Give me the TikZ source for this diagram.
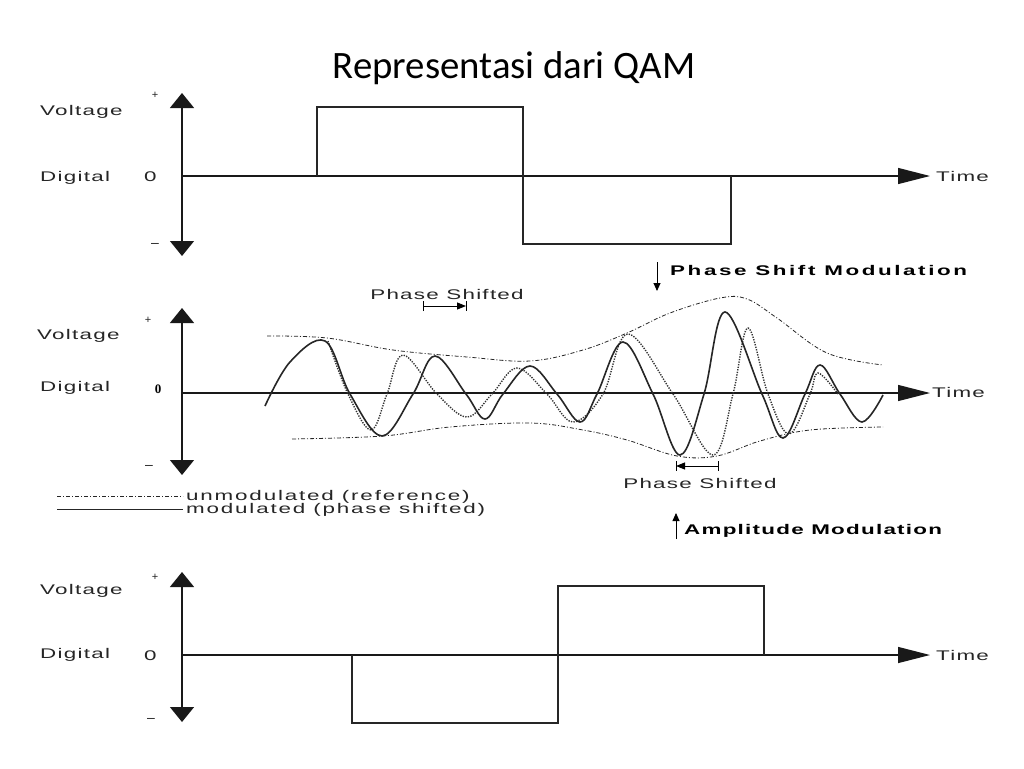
\documentclass[tikz,border=0pt]{standalone}
\usepackage{fontspec}
\setmainfont{Liberation Sans}
\newfontfamily\titlefont{Carlito}
\newfontfamily\lab[FakeStretch=1.6,LetterSpace=9]{Liberation Sans}
\newfontfamily\labl[FakeStretch=1.6,LetterSpace=13]{Liberation Sans}
\newfontfamily\labb[FakeStretch=1.6,LetterSpace=18.5]{Liberation Sans}
\newfontfamily\labbb[FakeStretch=1.6,LetterSpace=9]{Liberation Sans}
\newfontfamily\serifb{Liberation Serif}
\usetikzlibrary{arrows.meta}
\tikzset{
  axisline/.style={line width=1.3pt, draw=black!90},
  vtips/.style={{Triangle[length=15pt,width=24pt]}-{Triangle[length=15pt,width=24pt]}},
  htip/.style={-{Triangle[length=32pt,width=16pt]}},
  sq/.style={line width=1.5pt, draw=black!85},
  lbl/.style={inner sep=0pt, anchor=base west, font=\lab\fontsize{14}{15}\selectfont, text=black!85},
  lblc/.style={inner sep=0pt, anchor=base, font=\lab\fontsize{14}{15}\selectfont, text=black!85},
  blbl/.style={inner sep=0pt, anchor=base west, font=\labb\bfseries\fontsize{14}{15}\selectfont, text=black},
  pm/.style={inner sep=0pt, anchor=center, font=\fontsize{11}{12}\selectfont, text=black!85},
  mn/.style={inner sep=0pt, anchor=center, font=\fontsize{14}{15}\selectfont, text=black!85},
  solidw/.style={line width=1.6pt, draw=black!85},
  dotw/.style={line width=1.4pt, draw=black!80, dash pattern=on 1.3pt off 1.3pt},
  env/.style={line width=0.8pt, draw=black!85, dash pattern=on 4pt off 2pt on 1pt off 2pt},
  small/.style={line width=0.9pt, draw=black},
}
\begin{document}
\begin{tikzpicture}[x=1pt,y=-1pt]
\useasboundingbox (0,0) rectangle (1024,768);
\fill[white] (0,0) rectangle (1024,768);

% title
\node[inner sep=0pt, anchor=base, font=\titlefont\fontsize{38.8}{42}\selectfont] (title) at (514,78) {Representasi dari QAM};

% ===== top panel =====
\coordinate (t-top) at (182,93);
\coordinate (t-bot) at (182,256);
\coordinate (t-o) at (182,176);
\coordinate (t-end) at (930,176);
\draw[axisline, vtips] (t-bot) -- (t-top);
\draw[axisline, htip] (t-o) -- (t-end);
\node[lbl] (t-time) at (936,181) {Time};
\node[lbl] (t-volt) at (40,115) {Voltage};
\node[lbl] (t-dig) at (40,181) {Digital};
\node[lbl] (t-zero) at (144,181) {0};
\node[pm] (t-plus) at (155,95) {+};
\node[mn] (t-minus) at (155,245) {--};
\draw[sq] (317,176) -- (317,107) -- (523,107) -- (523,244) -- (731,244) -- (731,176);

% ===== middle panel =====
\coordinate (m-top) at (182,308);
\coordinate (m-bot) at (182,475);
\coordinate (m-o) at (182,393);
\coordinate (m-end) at (930,393);
\draw[axisline, vtips] (m-bot) -- (m-top);
\draw[axisline, htip] (m-o) -- (m-end);
\node[lbl] (m-time) at (932,397) {Time};
\node[lbl] (m-volt) at (37,339) {Voltage};
\node[lbl] (m-dig) at (40,391) {Digital};
\node[inner sep=0pt, anchor=base, font=\serifb\bfseries\fontsize{13}{14}\selectfont] (m-zero) at (158,393) {0};
\node[pm] (m-plus) at (148,320) {+};
\node[mn] (m-minus) at (149,467) {--};

% envelopes
\draw[env] plot[smooth, tension=0.6] coordinates {(267,336) (327,338) (393,350) (467,357) (530,361) (583,350) (627,333) (670,313) (720,298) (747,299) (777,318) (827,353) (883,365)};
\draw[env] plot[smooth, tension=0.6] coordinates {(292,439) (383,436) (450,427) (530,423) (583,430) (627,440) (677,456) (717,456) (760,441) (810,430) (883,427)};

% reference (dotted) wave
\draw[dotw] plot[smooth, tension=0.6] coordinates {(328,341) (348,394) (371,430) (387,394) (403,355) (437,394) (467,417) (492,394) (517,368) (547,394) (573,422) (603,394) (628,334) (673,394) (713,455) (733,394) (748,328) (768,394) (789,434) (810,394) (818,373) (838,394)};

% modulated (solid) wave
\draw[solidw] plot[smooth, tension=0.6] coordinates {(265,406) (290,362) (325,341) (350,394) (382,436) (413,394) (435,356) (466,394) (485,419) (503,394) (530,366) (557,394) (580,422) (597,394) (623,342) (653,394) (680,455) (704,394) (725,312) (762,394) (783,438) (805,394) (820,365) (840,394) (862,422) (883,395)};

% phase shifted labels
\node[lblc] (ps1) at (447,299) {Phase Shifted};
\coordinate (ps1a) at (423,306);
\coordinate (ps1b) at (466,306);
\draw[small, {Bar[width=10pt]}-{Triangle[length=9pt,width=7pt]}] (ps1a) -- (ps1b);
\draw[small] (ps1b) ++(0,-5) -- ++(0,10);

\node[lblc] (ps2) at (700,488) {Phase Shifted};
\coordinate (ps2a) at (676,466);
\coordinate (ps2b) at (719,466);
\draw[small, {Bar[width=10pt]}-{Triangle[length=9pt,width=7pt]}] (ps2b) -- (ps2a);
\draw[small] (ps2a) ++(0,-5) -- ++(0,10);

% modulation labels
\coordinate (psm-a) at (657,262);
\coordinate (psm-b) at (657,291);
\draw[small, -{Triangle[length=8pt,width=7pt]}] (psm-a) -- (psm-b);
\node[blbl] (psm) at (670,275) {Phase Shift Modulation};

\coordinate (am-a) at (676,539);
\coordinate (am-b) at (676,513);
\draw[small, -{Triangle[length=8pt,width=7pt]}] (am-a) -- (am-b);
\node[blbl, font=\labbb\bfseries\fontsize{14}{15}\selectfont] (am) at (684,534) {Amplitude Modulation};

% legend
\coordinate (lg1a) at (57,496);
\coordinate (lg1b) at (183,496);
\coordinate (lg2a) at (57,509);
\coordinate (lg2b) at (183,509);
\draw[env] (lg1a) -- (lg1b);
\draw[line width=0.9pt, draw=black!85] (lg2a) -- (lg2b);
\node[lbl, font=\labl\fontsize{14}{15}\selectfont] (lg1) at (186,500) {unmodulated (reference)};
\node[lbl, font=\labl\fontsize{14}{15}\selectfont] (lg2) at (186,513) {modulated (phase shifted)};

% ===== bottom panel =====
\coordinate (b-top) at (182,572);
\coordinate (b-bot) at (182,722);
\coordinate (b-o) at (182,655);
\coordinate (b-end) at (930,655);
\draw[axisline, vtips] (b-bot) -- (b-top);
\draw[axisline, htip] (b-o) -- (b-end);
\node[lbl] (b-time) at (936,660) {Time};
\node[lbl] (b-volt) at (40,594) {Voltage};
\node[lbl] (b-dig) at (40,658) {Digital};
\node[lbl] (b-zero) at (144,660) {0};
\node[pm] (b-plus) at (155,577) {+};
\node[mn] (b-minus) at (151,720) {--};
\draw[sq] (352,655) -- (352,723) -- (558,723) -- (558,586) -- (764,586) -- (764,655);
\end{tikzpicture}
\end{document}
